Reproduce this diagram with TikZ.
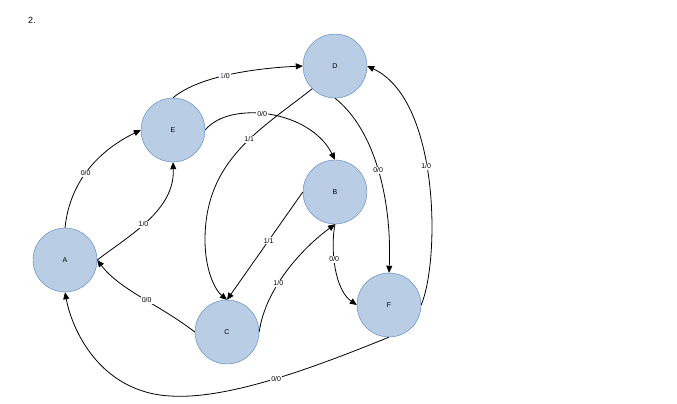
\documentclass[tikz,border=0pt]{standalone}
\usepackage{fontspec}
\setmainfont{Liberation Sans}
\usetikzlibrary{arrows.meta}
\definecolor{nfill}{HTML}{B9CDE5}
\definecolor{nline}{HTML}{4F81BD}
\begin{document}
\begin{tikzpicture}[x=1pt,y=-1pt,
  st/.style={circle,draw=nline,fill=nfill,minimum size=64pt,inner sep=0pt,font=\fontsize{7}{8}\selectfont},
  ed/.style={draw=black,-{Triangle[length=7pt,width=6pt]},line width=0.8pt},
  lb/.style={fill=white,inner sep=1pt,font=\fontsize{7}{8}\selectfont}]
\useasboundingbox (0,0) rectangle (677,404);
\node[font=\fontsize{9}{10}\selectfont] (t) at (32,20) {2.};
\node[st] (D) at (335,66) {D};
\node[st] (E) at (173,130) {E};
\node[st] (B) at (335,192) {B};
\node[st] (A) at (65,260) {A};
\node[st] (F) at (389,305) {F};
\node[st] (C) at (227,332) {C};
\draw[ed] (E.north) .. controls (200,75) and (260,68) .. node[lb,pos=0.45]{\textcolor{nline!70!black}{1}/0} (D.west);
\draw[ed] (E.east) .. controls (230,100) and (310,110) .. node[lb,pos=0.45]{0/0} (B.north);
\draw[ed] (A.north) .. controls (70,180) and (100,150) .. node[lb,pos=0.45]{0/0} (E.west);
\draw[ed] (A.east) .. controls (130,235) and (175,210) .. node[lb,pos=0.45]{1/0} (E.south);
\draw[ed] (D.south west) .. controls (260,130) and (205,160) .. node[lb,pos=0.42]{1/1} (205,240) .. controls (205,270) and (215,290) .. (C.north);
\draw[ed] (D.south) .. controls (375,130) and (392,200) .. node[lb,pos=0.5]{0/0} (F.north);
\draw[ed] (B.west) -- node[lb,pos=0.45]{1/1} (C.north);
\draw[ed] (C.east) .. controls (265,290) and (300,250) .. node[lb,pos=0.4]{1/0} (B.south);
\draw[ed] (B.south) .. controls (330,250) and (335,290) .. node[lb,pos=0.4]{0/0} (F.west);
\draw[ed] (C.west) .. controls (160,305) and (120,290) .. node[lb,pos=0.45]{0/0} (A.east);
\draw[ed] (F.east) .. controls (440,260) and (440,100) .. node[lb,pos=0.55]{1/0} (D.east);
\draw[ed] (F.south) .. controls (320,365) and (230,400) .. node[lb,pos=0.5]{0/0} (170,396) .. controls (100,392) and (72,330) .. (A.south);
\end{tikzpicture}
\end{document}
